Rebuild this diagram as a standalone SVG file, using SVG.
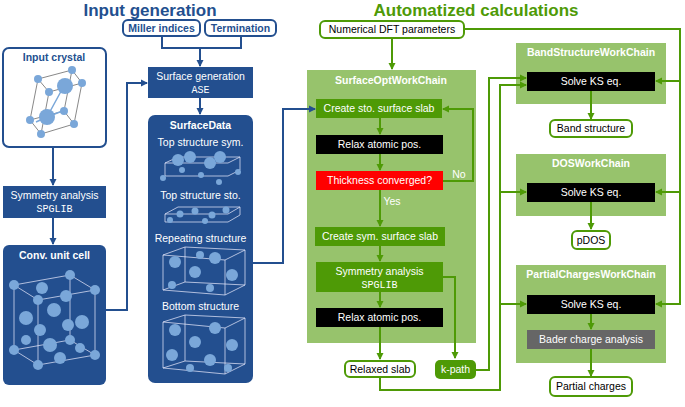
<svg xmlns="http://www.w3.org/2000/svg" width="685" height="407" viewBox="0 0 685 407">
<style>
text{font-family:"Liberation Sans",Arial,sans-serif;font-size:10.5px;text-anchor:middle}
.t{font-size:17px;font-weight:bold}
.b{font-weight:bold}
.w{fill:#fff}
.m{font-family:"Liberation Mono",monospace;font-size:10px}
.bl{stroke:#234f8f;stroke-width:2;fill:none}
.gl{stroke:#4e9a06;stroke-width:2;fill:none}
.wire{stroke:#eef;stroke-width:0.7;fill:none}
.wire2{stroke:#555;stroke-width:0.7;fill:none}
.at{fill:#7aa7d9}
</style>
<defs>
<marker id="ab" markerWidth="8" markerHeight="8" refX="6" refY="4" orient="auto" markerUnits="userSpaceOnUse"><path d="M0,0.5 L7,4 L0,7.5 z" fill="#234f8f"/></marker>
<marker id="ag" markerWidth="8" markerHeight="8" refX="6" refY="4" orient="auto" markerUnits="userSpaceOnUse"><path d="M0,0.5 L7,4 L0,7.5 z" fill="#4e9a06"/></marker>
</defs>
<text class="t" x="150" y="16" fill="#234f8f">Input generation</text>
<text class="t" x="476" y="16" fill="#4e9a06">Automatized calculations</text>

<g id="panels">
<rect x="307" y="70" width="169" height="273" fill="#97c36c"/>
<rect x="516" y="43" width="150" height="61" fill="#97c36c"/>
<rect x="516" y="154" width="150" height="62" fill="#97c36c"/>
<rect x="516" y="265" width="150" height="98" fill="#97c36c"/>
<text class="b w" x="391" y="84">SurfaceOptWorkChain</text>
<text class="b w" x="591" y="56">BandStructureWorkChain</text>
<text class="b w" x="591" y="167">DOSWorkChain</text>
<text class="b w" x="591" y="278">PartialChargesWorkChain</text>
</g>

<g id="connectors">
<path class="bl" d="M162,36 V48 H241 V36 M200,48 V66" marker-end="url(#ab)"/>
<path class="bl" d="M162,36 V48"/>
<path class="bl" d="M53,147 V185" marker-end="url(#ab)"/>
<path class="bl" d="M53,218 V244" marker-end="url(#ab)"/>
<path class="bl" d="M106,310 H127 V83 H147" marker-end="url(#ab)"/>
<path class="bl" d="M200,98 V114" marker-end="url(#ab)"/>
<path class="bl" d="M253,263 H283 V109 H315" marker-end="url(#ab)"/>
<path class="gl" d="M392,38 V69" marker-end="url(#ag)"/>
<path class="gl" d="M380,118 V134" marker-end="url(#ag)"/>
<path class="gl" d="M380,154 V170" marker-end="url(#ag)"/>
<path class="gl" d="M443,181 H473 V109 H443" marker-end="url(#ag)"/>
<path class="gl" d="M380,190 V226" marker-end="url(#ag)"/>
<path class="gl" d="M380,246 V261" marker-end="url(#ag)"/>
<path class="gl" d="M380,292 V307" marker-end="url(#ag)"/>
<path class="gl" d="M380,327 V359" marker-end="url(#ag)"/>
<path class="gl" d="M443,277 H455 V358" marker-end="url(#ag)"/>
<path class="gl" d="M476,370 H489 V78 H526" marker-end="url(#ag)"/>
<path class="gl" d="M380,377 V390 H500 V85 H526" marker-end="url(#ag)"/>
<path class="gl" d="M500,192 H526" marker-end="url(#ag)"/>
<path class="gl" d="M500,304 H526" marker-end="url(#ag)"/>
<path class="gl" d="M464,29 H680 V304 H656" marker-end="url(#ag)"/>
<path class="gl" d="M680,81 H656" marker-end="url(#ag)"/>
<path class="gl" d="M680,192 H656" marker-end="url(#ag)"/>
<path class="gl" d="M591,91 V119" marker-end="url(#ag)"/>
<path class="gl" d="M591,202 V229" marker-end="url(#ag)"/>
<path class="gl" d="M591,314 V329" marker-end="url(#ag)"/>
<path class="gl" d="M591,349 V376" marker-end="url(#ag)"/>
</g>

<g id="miller"><rect x="123" y="20" width="77" height="16" rx="5" fill="#fff" stroke="#234f8f" stroke-width="2"/><text class="b" x="161.5" y="32" fill="#234f8f">Miller indices</text></g>
<g id="termination"><rect x="205" y="20" width="71" height="16" rx="5" fill="#fff" stroke="#234f8f" stroke-width="2"/><text class="b" x="240.5" y="32" fill="#234f8f">Termination</text></g>

<g id="input-crystal">
<rect x="3" y="48" width="103" height="99" rx="6" fill="#fff" stroke="#234f8f" stroke-width="2"/>
<text class="b" x="54" y="61" fill="#234f8f">Input crystal</text>
<path class="wire2" d="M38,79 L72,70 L82,83 L49,92 Z M30,120 L64,111 L74,124 L41,134 Z M38,79 L30,120 M72,70 L64,111 M82,83 L74,124 M49,92 L41,134"/>
<path d="M47,117 L65,84 M47,117 L36,122 M47,117 L65,110" stroke="#7aa7d9" stroke-width="1.5"/>
<circle class="at" cx="38" cy="79" r="4"/><circle class="at" cx="72" cy="70" r="4"/><circle class="at" cx="82" cy="83" r="4"/><circle class="at" cx="49" cy="92" r="4"/>
<circle class="at" cx="30" cy="120" r="4"/><circle class="at" cx="64" cy="111" r="4"/><circle class="at" cx="74" cy="124" r="4"/><circle class="at" cx="41" cy="134" r="4"/>
<circle class="at" cx="65" cy="86" r="8"/><circle class="at" cx="47" cy="117" r="8"/>
</g>

<g id="symmetry-left"><rect x="3" y="186" width="103" height="32" fill="#234f8f"/><text class="w" x="54.5" y="199">Symmetry analysis</text><text class="w m" x="54.5" y="212">SPGLIB</text></g>

<g id="conv-cell">
<rect x="3" y="245" width="103" height="140" rx="6" fill="#234f8f"/>
<text class="b w" x="54.5" y="259">Conv. unit cell</text>
<path class="wire" d="M14,285 L70,275 L95,290 L38,300 Z M14,350 L70,340 L95,355 L38,365 Z M14,285 V350 M70,275 V340 M95,290 V355 M38,300 V365"/>
<g class="at">
<circle cx="14" cy="285" r="5"/><circle cx="70" cy="275" r="5"/><circle cx="95" cy="290" r="5"/><circle cx="38" cy="300" r="5"/>
<circle cx="14" cy="350" r="5"/><circle cx="70" cy="340" r="5"/><circle cx="95" cy="355" r="5"/><circle cx="38" cy="365" r="5"/>
<circle cx="42" cy="288" r="6"/><circle cx="66" cy="296" r="6"/><circle cx="26" cy="318" r="7"/><circle cx="54" cy="310" r="7"/><circle cx="82" cy="322" r="7"/>
<circle cx="40" cy="330" r="6"/><circle cx="68" cy="325" r="6"/><circle cx="50" cy="345" r="7"/><circle cx="26" cy="340" r="5"/><circle cx="80" cy="348" r="5"/><circle cx="60" cy="358" r="6"/>
</g>
</g>

<g id="surface-gen"><rect x="148" y="67" width="105" height="31" fill="#234f8f"/><text class="w" x="200.5" y="80">Surface generation</text><text class="w m" x="200.5" y="93">ASE</text></g>

<g id="surfacedata">
<rect x="148" y="115" width="105" height="268" rx="7" fill="#234f8f"/>
<text class="b w" x="200.5" y="129" font-size="11.5">SurfaceData</text>
<text class="w" x="200.5" y="146" font-size="9.5">Top structure sym.</text>
<path class="wire" d="M165,163 L178,157 L240,157 L228,163 Z M165,163 V176 L228,176 L240,170 V157"/>
<g class="at"><circle cx="178" cy="160" r="6"/><circle cx="190" cy="157" r="6"/><circle cx="210" cy="163" r="6"/><circle cx="220" cy="157" r="6"/><circle cx="163" cy="178" r="3"/><circle cx="201" cy="175" r="3"/><circle cx="219" cy="182" r="3"/><circle cx="238" cy="172" r="3"/><circle cx="182" cy="170" r="3"/></g>
<text class="w" x="200.5" y="199" font-size="9.5">Top structure sto.</text>
<path class="wire" d="M165,214 L178,207 L240,207 L228,214 Z M165,214 V222 L228,222 L240,215 V207"/>
<g class="at"><circle cx="180" cy="214" r="3.5"/><circle cx="195" cy="211" r="3.5"/><circle cx="212" cy="215" r="3.5"/><circle cx="226" cy="210" r="3.5"/><circle cx="170" cy="220" r="3"/><circle cx="205" cy="221" r="3"/></g>
<text class="w" x="200.5" y="242" font-size="9.5">Repeating structure</text>
<path class="wire" d="M163,255 L185,247 L245,250 L225,260 Z M163,290 L185,282 L245,285 L225,295 Z M163,255 V290 M185,247 V282 M245,250 V285 M225,260 V295"/>
<g class="at"><circle cx="175" cy="262" r="6"/><circle cx="215" cy="258" r="6"/><circle cx="195" cy="272" r="6"/><circle cx="232" cy="275" r="6"/><circle cx="172" cy="285" r="4"/><circle cx="210" cy="288" r="4"/><circle cx="200" cy="255" r="4"/></g>
<text class="w" x="200.5" y="310" font-size="9.5">Bottom structure</text>
<path class="wire" d="M163,322 L185,315 L245,318 L225,328 Z M163,368 L185,361 L245,364 L225,374 Z M163,322 V368 M185,315 V361 M245,318 V364 M225,328 V374"/>
<g class="at"><circle cx="175" cy="330" r="6"/><circle cx="215" cy="328" r="6"/><circle cx="195" cy="342" r="6"/><circle cx="232" cy="345" r="6"/><circle cx="172" cy="355" r="6"/><circle cx="210" cy="360" r="6"/><circle cx="190" cy="368" r="4"/><circle cx="228" cy="368" r="4"/></g>
</g>

<g id="dft"><rect x="320" y="21" width="144" height="17" rx="5" fill="#fff" stroke="#4e9a06" stroke-width="2"/><text x="392" y="33">Numerical DFT parameters</text></g>
<g id="create-sto"><rect x="316" y="99" width="126" height="19" fill="#4e9a06"/><text class="w" x="379" y="112">Create sto. surface slab</text></g>
<g id="relax1"><rect x="316" y="135" width="127" height="19" fill="#000"/><text class="w" x="379.5" y="148">Relax atomic pos.</text></g>
<g id="thickness"><rect x="316" y="171" width="127" height="19" fill="#f00"/><text class="w" x="379.5" y="184">Thickness converged?</text></g>
<text class="w" x="459" y="178" font-size="9">No</text>
<text class="w" x="392" y="205" font-size="9">Yes</text>
<g id="create-sym"><rect x="315" y="227" width="130" height="19" fill="#4e9a06"/><text class="w" x="380" y="240">Create sym. surface slab</text></g>
<g id="sym-right"><rect x="316" y="262" width="127" height="30" fill="#4e9a06"/><text class="w" x="379.5" y="275">Symmetry analysis</text><text class="w m" x="379.5" y="288">SPGLIB</text></g>
<g id="relax2"><rect x="316" y="308" width="127" height="19" fill="#000"/><text class="w" x="379.5" y="321">Relax atomic pos.</text></g>
<g id="relaxed-slab"><rect x="345" y="361" width="70" height="16" rx="5" fill="#fff" stroke="#4e9a06" stroke-width="2"/><text x="380" y="373">Relaxed slab</text></g>
<g id="kpath"><rect x="435" y="360" width="41" height="19" rx="5" fill="#4e9a06"/><text class="w" x="455.5" y="373">k-path</text></g>
<g id="ks1"><rect x="527" y="72" width="128" height="19" fill="#000"/><text class="w" x="591" y="85">Solve KS eq.</text></g>
<g id="band"><rect x="550" y="120" width="82" height="17" rx="5" fill="#fff" stroke="#4e9a06" stroke-width="2"/><text x="591" y="132">Band structure</text></g>
<g id="ks2"><rect x="527" y="183" width="128" height="19" fill="#000"/><text class="w" x="591" y="196">Solve KS eq.</text></g>
<g id="pdos"><rect x="572" y="231" width="38" height="18" rx="5" fill="#fff" stroke="#4e9a06" stroke-width="2"/><text x="591" y="244">pDOS</text></g>
<g id="ks3"><rect x="527" y="295" width="128" height="19" fill="#000"/><text class="w" x="591" y="308">Solve KS eq.</text></g>
<g id="bader"><rect x="527" y="330" width="128" height="19" fill="#666"/><text class="w" x="591" y="343">Bader charge analysis</text></g>
<g id="partial"><rect x="550" y="377" width="82" height="19" rx="5" fill="#fff" stroke="#4e9a06" stroke-width="2"/><text x="591" y="390">Partial charges</text></g>
</svg>
